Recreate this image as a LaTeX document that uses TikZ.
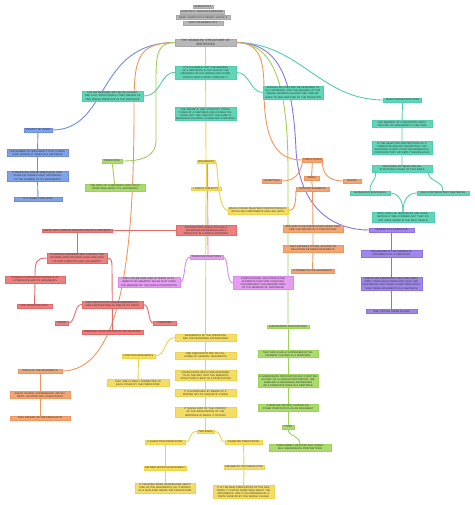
\documentclass[tikz,border=0pt]{standalone}
\usepackage{fontspec}
\setmainfont{Liberation Sans}
\usetikzlibrary{backgrounds}

\definecolor{grayfill}{HTML}{B8B8B8}   \definecolor{grayline}{HTML}{A8A8A8}
\definecolor{tealfill}{HTML}{62D5B7}   \definecolor{tealline}{HTML}{52CCAE}
\definecolor{bluefill}{HTML}{7FA2E8}   \definecolor{blueline}{HTML}{6B8DE0}
\definecolor{orangefill}{HTML}{F2A675} \definecolor{orangeline}{HTML}{EF965C}
\definecolor{greenfill}{HTML}{ABDB6E}  \definecolor{greenline}{HTML}{9DD157}
\definecolor{yellowfill}{HTML}{F3DD66} \definecolor{yellowline}{HTML}{EDD24A}
\definecolor{redfill}{HTML}{EC8080}    \definecolor{redline}{HTML}{E46A6A}
\definecolor{violetfill}{HTML}{E59DF2} \definecolor{violetline}{HTML}{D98AEA}
\definecolor{purplefill}{HTML}{9F88E7} \definecolor{purpleline}{HTML}{8C72E2}

\begin{document}
\begin{tikzpicture}[x=1pt,y=1pt]
  \tikzset{
    box/.style={inner sep=0.9pt, align=center, text=black!80, font=\fontsize{2.5}{3.2}\selectfont,
      draw=#1line, fill=#1fill, line width=0.25pt},
    wd/.style={text width=#1pt},
    mw/.style={minimum width=#1pt},
    link/.style={line width=0.9pt, draw=#1line},
  }
  \useasboundingbox (0,0) rectangle (474,-505);

  % header
  \node[box=gray,mw=20] (h1) at (203,-6.5) {SEMANTICS II};
  \node[box=gray,mw=38] (h2) at (202,-12) {CHAPTER 6: SENTENCE MEANING};
  \node[box=gray,mw=54] (h3) at (203,-17.5) {NAME: SEMANTICS STUDENT, GROUP A};
  \node[box=gray,mw=40] (h4) at (203,-23) {DATE: NOVEMBER 2019};

  \node[box=gray,wd=59.4,font=\fontsize{3.1}{3.7}\selectfont] (main) at (205.5,-42.5) {THE SEMANTIC STRUCTURE OF\\SENTENCES};

  % teal
  \node[box=teal,wd=59.4] (t1) at (205.5,-72.5) {IT IS PLAUSIBLE THAT THE MEANING OF A SENTENCE IS THE SUM OF THE MEANINGS OF THE WORDS AND OTHER CONSTITUENTS WHICH COMPOSE IT};
  \node[box=teal,wd=59.4] (t2) at (205.5,-114) {THE SEMANTIC AND SYNTACTIC STRUCTURES OF A SENTENCE ARE CLOSELY RELATED, BUT THEY ARE NOT THE SAME: A SENTENCE HAS BOTH A FORM AND A MEANING};
  \node[box=teal,wd=59.4] (tl) at (112.5,-96) {THE EXPRESSIONS MAY BE SO CLOSELY TIED THAT STRUCTURALLY THEY BEHAVE AS ONE SINGLE PREDICATE IN THE SENTENCE};
  \node[box=teal,wd=58.4] (tr) at (293,-92.5) {SEVERAL ENTITIES MAY BE REFERRED TO IN A SENTENCE, AND THE MEANING OF THE WHOLE DEPENDS ON HOW THEY ARE RELATED TO ONE ANOTHER BY THE PREDICATE};
  \node[box=teal,mw=38] (sel) at (402.5,-100) {SELECTION RESTRICTIONS};
  \node[box=teal,wd=58.4] (s1) at (402,-124) {THE MEANING OF A PREDICATE LIMITS THE KIND OF ARGUMENTS IT CAN TAKE};
  \node[box=teal,wd=58.4] (s2) at (402,-148) {IF THE SELECTION RESTRICTIONS OF A PREDICATE ARE NOT RESPECTED, THE SENTENCE IS ODD: IT MAY BE ANOMALOUS, CONTRADICTORY OR SIMPLY MEANINGLESS};
  \node[box=teal,wd=58.4] (s3) at (402,-168.5) {VIOLATIONS OF SELECTION RESTRICTIONS CAN BE OF TWO KINDS};
  \node[box=teal,mw=40] (s4) at (370,-193) {ANOMALOUS SENTENCES};
  \node[box=teal,mw=52] (s5) at (443,-193) {SELF-CONTRADICTORY SENTENCES};
  \node[box=teal,wd=60.4] (s6) at (403,-217) {BOTH KINDS OF SENTENCES ARE GRAMMATICALLY WELL FORMED, BUT THEY DO NOT MAKE SENSE IN THE REAL WORLD};

  % blue
  \node[box=blue,mw=28] (b1) at (38,-130) {VALENCY OF VERBS};
  \node[box=blue,wd=59.4] (b2) at (37.5,-153) {THE NUMBER OF ARGUMENTS THAT A PREDICATE NORMALLY TAKES IN A SENTENCE};
  \node[box=blue,wd=59.4] (b3) at (37.5,-176) {A PREDICATE CAN BE ONE-PLACE, TWO-PLACE OR THREE-PLACE, ACCORDING TO THE NUMBER OF ITS ARGUMENTS};
  \node[box=blue,mw=48] (b4) at (38,-199) {E.G. SLEEP, LOVE, GIVE};

  % green
  \node[box=green,mw=20] (g1) at (112,-161) {PREDICATES};
  \node[box=green,wd=58.4] (g2) at (115,-187.5) {THE PART OF A SENTENCE THAT TELLS SOMETHING ABOUT ITS ARGUMENTS};
  \node[box=green,mw=42] (gs) at (288,-326.5) {SUBORDINATE PROPOSITIONS};
  \node[box=green,wd=58.4] (gr1) at (288,-354) {THEY ARE USUALLY EXPRESSED BY DEPENDENT CLAUSES IN A SENTENCE};
  \node[box=green,wd=58.4] (gr2) at (288,-381) {A SUBORDINATE PROPOSITION MAY FUNCTION AS PART OF A LARGER PROPOSITION, THE SAME WAY A REFERRING EXPRESSION OR A PREDICATE DOES IN A SENTENCE};
  \node[box=green,wd=58.4] (gr3) at (288,-407.5) {A PROPOSITION MAY CONTAIN ANOTHER PROPOSITION AS AN ARGUMENT};
  \node[box=green,mw=12] (gty) at (288,-427) {TYPES};
  \node[box=green,wd=60.4] (gr4) at (300,-447.5) {COMPLEMENT, RELATIVE AND ADVERBIAL SUBORDINATE PROPOSITIONS};

  % orange
  \node[box=orange,mw=20] (p0) at (312.5,-160) {PREDICATORS};
  \node[box=orange,mw=19] (p1) at (272,-181) {ADJECTIVES};
  \node[box=orange,mw=15] (p2) at (311.5,-178) {VERBS};
  \node[box=orange,mw=18] (p3) at (352,-181) {NOUNS};
  \node[box=orange,mw=33] (p4) at (312.5,-189) {CONTENT ELEMENTS};
  \node[box=orange,wd=58.4] (p5) at (313,-228.5) {ARE SAID TO BE PREDICATORS WHEN THEY ARE THE CENTRE OF A PROPOSITION};
  \node[box=orange,wd=58.4] (p6) at (313,-248.5) {THEY EXPRESS STATES, ACTIONS OR RELATIONS BETWEEN REFERENTS};
  \node[box=orange,mw=43] (p7) at (312.5,-271) {IT CONNECTS THE ARGUMENTS};
  \node[box=orange,mw=44] (o1) at (40,-371) {ROLES OF THE ARGUMENTS};
  \node[box=orange,wd=58.4] (o2) at (40,-395) {AGENT, PATIENT, EXPERIENCER, INSTRUMENT, LOCATION AND OTHER ROLES};
  \node[box=orange,mw=60] (o3) at (40,-418) {THEY DEPEND ON THE PREDICATOR};

  % yellow
  \node[box=yellow,mw=18] (a) at (206,-161.5) {ARGUMENTS};
  \node[box=yellow,mw=30] (lp) at (206,-188.5) {LOGICAL SUBJECTS};
  \node[box=yellow,wd=58.4] (yw) at (258,-210.5) {WHICH CAN BE ANALYZED COMPOSITIONALLY, BOTH LIKE COMPONENTS AND LIKE UNITS};
  \node[box=yellow,wd=59.4] (y1) at (205.5,-337.5) {ARGUMENTS OF THE PREDICATE ARE THE REFERRING EXPRESSIONS};
  \node[box=yellow,wd=59.4] (y2) at (205.5,-355.5) {ONE PREDICATOR MAY BE FOLLOWED BY SEVERAL ARGUMENTS};
  \node[box=yellow,wd=59.4] (y3) at (205.5,-375.5) {PREDICATORS WHICH ARE REFERRED TO AS THE WAY THAT THE SEMANTIC STRUCTURE IS BUILT IN A PROPOSITION};
  \node[box=yellow,wd=59.4] (y4) at (205.5,-393) {IT IS EXPRESSED BY MEANS OF A PROPER SET OF LINGUISTIC FORMS};
  \node[box=yellow,wd=59.4] (y5) at (205.5,-412) {IT MAKES PART OF THE CONTENT OF THE PROPOSITION OF THE SENTENCE IN WHICH IT OCCURS};
  \node[box=yellow,mw=17] (tk) at (205.5,-431.5) {TWO KINDS};
  \node[box=yellow,mw=40] (ql) at (165,-442) {A QUALIFYING PREDICATION};
  \node[box=yellow,mw=37] (qr) at (243.5,-442) {ASSERTED PREDICATION};
  \node[box=yellow,mw=42] (ql2) at (165,-468) {DEFINED WITHIN AN ARGUMENT};
  \node[box=yellow,wd=58.4] (ql3) at (165,-488) {IT PROVIDES MORE INFORMATION ABOUT ONE OF THE ARGUMENTS, SO IT WORKS AS A QUALIFIER INSIDE THE PROPOSITION};
  \node[box=yellow,mw=40] (qr2) at (244,-467) {DEFINED BY THE PREDICATOR};
  \node[box=yellow,wd=59.4] (qr3) at (243.5,-492) {IT IS THE MAIN PREDICATION OF THE SENTENCE: IT STATES SOMETHING ABOUT THE ARGUMENTS, AND IT IS EXPRESSED BY A FINITE VERB OR BY THE WHOLE CLAUSE};
  \node[box=yellow,mw=33] (yf) at (138.5,-356) {FUNCTION ARGUMENTS};
  \node[box=yellow,wd=60.4] (yf2) at (138,-383) {THEY ARE CLOSELY CONNECTED TO EACH OTHER BY THE PREDICATOR};

  % red
  \node[box=red,wd=58.4] (rc) at (206,-230.5) {PROPOSITIONS WHICH INCLUDE A REFERRING EXPRESSION AND A PREDICATE IN A SIMPLE SENTENCE};
  \node[box=red,mw=60] (r1) at (77,-230.5) {SIMPLE AND COMPLEX PROPOSITIONS IN A SENTENCE};
  \node[box=red,wd=58.4] (r2) at (77,-258) {A COMPLEX SENTENCE MAY CONTAIN TWO OR MORE PROPOSITIONS, EACH ONE WITH ITS OWN PREDICATE AND ARGUMENTS};
  \node[box=red,wd=58.4] (r3) at (35,-279.5) {A SIMPLE PROPOSITION CONSISTS OF A PREDICATE AND ITS ARGUMENTS};
  \node[box=red,mw=35] (r4) at (34.5,-306) {ONE PREDICATE ONLY};
  \node[box=red,wd=59.4] (r5) at (112.5,-304.5) {ONE PROPOSITION CAN BE EMBEDDED INSIDE ANOTHER ONE AS ONE OF ITS PARTS};
  \node[box=red,mw=13] (r6) at (61.5,-323) {CAUSE};
  \node[box=red,mw=23] (r7) at (164.5,-323) {CONDITION};
  \node[box=red,mw=61] (r8) at (112.5,-332) {EMBEDDED PROPOSITIONS IN THE SENTENCE};

  % violet
  \node[box=violet,mw=33] (v0) at (206.5,-257) {PREDICATE FUNCTIONS};
  \node[box=violet,wd=60.4] (v1) at (149,-282) {THEY CAN BE ANALYZED IN TERMS OF ELEMENTS OR SEMANTIC ROLES THAT FORM THE MEANING OF THE WHOLE PROPOSITION};
  \node[box=violet,wd=58.4] (v2) at (263,-283) {COMPOSITIONAL AND PREDICATIVE ELEMENTS FUNCTION TOGETHER TO REPRESENT THE GREATER PART OF THE MEANING OF SENTENCES};

  % purple
  \node[box=purple,mw=45] (u0) at (391.5,-230) {DEGREE OF A PREDICATE};
  \node[box=purple,wd=59.4] (u1) at (391.5,-253.5) {THE DEGREE IS THE NUMBER OF ARGUMENTS OF A PREDICATE};
  \node[box=purple,wd=59.4] (u2) at (391.5,-283.5) {ONE-PLACE PREDICATES TAKE ONE ARGUMENT, TWO-PLACE PREDICATES TAKE TWO ARGUMENTS AND THREE-PLACE PREDICATES TAKE THREE ARGUMENTS IN A SENTENCE};
  \node[box=purple,mw=51] (u3) at (391.5,-311.5) {ONE, TWO OR THREE PLACES};

  \begin{scope}[on background layer]
    % left side of the title
    \draw[link=blue] (main.west) .. controls (95,-43) and (110,-130) .. (b1.east);
    \draw[link=blue] (b1) -- (b2) -- (b3) -- (b4);
    \draw[link=orange] (main.west) .. controls (136,-43) and (134,-60) .. (134,-110) .. controls (134,-260) and (120,-371) .. (o1.east);
    \draw[link=orange] (o1) -- (o2) -- (o3);
    \draw[link=green] (main.west) .. controls (158,-43) and (156,-52) .. (156,-80) -- (156,-140) .. controls (156,-158) and (140,-161) .. (g1.east);
    \draw[link=green] (g1) -- (g2);

    % teal
    \draw[link=teal] (t1.west) .. controls (160,-72) and (162,-96) .. (tl.east);
    \draw[link=teal] (t1.east) .. controls (250,-72) and (250,-92.5) .. (tr.west);
    \draw[link=teal] (main.east) .. controls (300,-43) and (320,-100) .. (sel.west);
    \draw[link=teal] (sel) -- (s1) -- (s2) -- (s3);
    \draw[link=teal] ([xshift=4pt]s3.south west) .. controls (376,-182) and (370,-180) .. (s4.north);
    \draw[link=teal] ([xshift=-4pt]s3.south east) .. controls (428,-182) and (443,-180) .. (s5.north);
    \draw[link=teal] (s4.east) .. controls (398,-193) and (403,-200) .. (s6.north);
    \draw[link=teal] (s5.west) .. controls (408,-193) and (403,-200) .. (s6.north);

    % purple
    \draw[link=purple] (main.east) .. controls (280,-43) and (293,-80) .. (296,-150) .. controls (300,-215) and (340,-230) .. (u0.west);
    \draw[link=purple] (u0) -- (u1) -- (u2) -- (u3);

    % green
    \draw[link=green] (main.east) .. controls (272,-43) and (288,-80) .. (288,-170) -- (gs.north);
    \draw[link=green] (gs) -- (gr1) -- (gr2) -- (gr3) -- (gty);
    \draw[link=green] (gty.south) .. controls (288,-437) and (300,-435) .. (gr4.north);

    % orange
    \draw[link=orange] (main.east) .. controls (258,-43) and (264,-56) .. (264,-90) .. controls (264,-150) and (282,-160) .. (p0.west);
    \draw[link=orange] (p0.south west) .. controls (300,-178) and (290,-181) .. (p1.east);
    \draw[link=orange] (p0.south east) .. controls (322,-178) and (334,-181) .. (p3.west);
    \draw[link=orange] (p0) -- (p2) -- (p4) -- (p5) -- (p6) -- (p7);
    \draw[link=orange] (p4.south west) .. controls (296,-205) and (294,-211) .. (yw.east);

    % yellow
    \draw[link=yellow] (main.south) -- (a.north);
    \draw[link=yellow] (a) -- (lp);
    \draw[link=yellow] (lp.south) -- (y1.north);
    \draw[link=violet] ([xshift=1.5pt]a.south) -- ([xshift=1.5pt]v0.north);
    \draw[link=yellow] (a.east) .. controls (219,-162) and (216,-208) .. (yw.west);
    \draw[link=yellow] (y1) -- (y2) -- (y3) -- (y4) -- (y5) -- (tk);
    \draw[link=yellow] (y1.west) .. controls (164,-338) and (166,-356) .. (yf.east);
    \draw[link=yellow] (yf) -- (yf2);
    \draw[link=yellow] (tk.west) .. controls (188,-431.5) and (192,-442) .. (ql.east);
    \draw[link=yellow] (tk.east) .. controls (223,-431.5) and (219,-442) .. (qr.west);
    \draw[link=yellow] (ql) -- (ql2) -- (ql3);
    \draw[link=yellow] (qr) -- (qr2) -- (qr3);

    % red
    \draw[link=red] (rc.west) -- (r1.east);
    \draw[link=red] (r1) -- (r2);
    \draw[link=red] (r2.west) .. controls (36,-258) and (35,-262) .. (r3.north);
    \draw[link=red] (r3) -- (r4);
    \draw[link=red] (r2.east) .. controls (112,-258) and (112,-262) .. (112,-268) -- (r8.north);
    \draw[link=red] (r5.west) .. controls (74,-304) and (76,-323) .. (r6.east);
    \draw[link=red] (r5.east) .. controls (150,-304) and (148,-323) .. (r7.west);

    % violet
    \draw[link=violet] (v0.west) .. controls (183,-257) and (186,-282) .. (v1.east);
    \draw[link=violet] (v0.east) .. controls (229,-257) and (226,-283) .. (v2.west);
  \end{scope}
\end{tikzpicture}
\end{document}
